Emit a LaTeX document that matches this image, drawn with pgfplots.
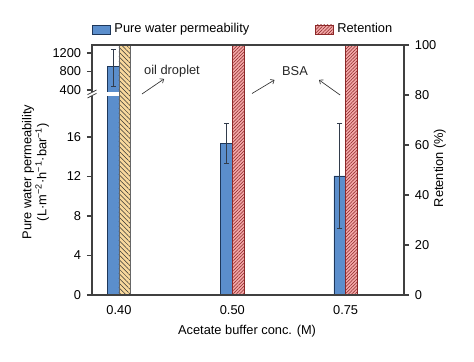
\documentclass[border=0pt]{standalone}
\usepackage{fontspec}
\setmainfont{Liberation Sans}
\usepackage{pgfplots}
\pgfplotsset{compat=1.18}
\usetikzlibrary{patterns.meta,arrows.meta}
\definecolor{pwblue}{RGB}{91,142,204}
\definecolor{pwedge}{RGB}{30,55,90}
\definecolor{retpink}{RGB}{244,168,168}
\definecolor{rethatch}{RGB}{140,40,40}
\definecolor{oiltan}{RGB}{248,216,156}
\definecolor{axgray}{RGB}{64,64,64}
\definecolor{errgray}{RGB}{50,60,75}
\begin{document}
\begin{tikzpicture}[font=\fontsize{7.7}{9}\selectfont]
\pgfplotsset{
  common/.style={
    width=187.2pt, height=150pt, scale only axis,
    at={(0,0)}, anchor=south west,
    xmin=-0.238, xmax=2.515,
    tick align=outside,
    major tick length=3pt,
    axis line style={axgray, line width=0.8pt},
    every tick/.style={axgray, line width=0.8pt},
    /pgf/number format/assume math mode=true,
    bar width=7pt,
    legend style={draw=none, fill=none, inner sep=0pt,
      font=\fontsize{7.7}{9}\selectfont, legend cell align=left},
    legend image code/.code={\draw[#1] (0pt,-2.7pt) rectangle (10.8pt,2.7pt);},
  }
}
% ---------------- left axis: pure water permeability (broken) ----------------
\begin{axis}[common,
  ymin=0, ymax=1373,
  y coord trafo/.code={\pgfmathparse{#1<300 ? 3.95*#1 : 82+(#1-400)*0.0185}},
  ytick={0,4,8,12,16,400,800,1200},
  yticklabels={0,4,8,12,16,400,800,1200},
  ytick pos=left,
  xtick={0,1,2},
  xticklabels={0.40,0.50,0.75},
  xtick style={draw=none},
  xtick pos=bottom,
  xlabel={Acetate buffer conc. (M)},
  every axis x label/.style={at={(axis description cs:0.497,-0.144)}, anchor=center},
  ylabel={Pure water permeability\\(L·m\textsuperscript{−2}·h\textsuperscript{−1}·bar\textsuperscript{−1})},
  every axis y label/.style={at={(axis description cs:-0.181,0.492)}, rotate=90, anchor=center, align=center},
  legend style={at={(axis description cs:0,1.062)}, anchor=west},
]
\addplot[ybar, bar shift=-3.5pt, fill=pwblue, draw=pwedge, line width=0.5pt]
  coordinates {(0,902) (1,15.35) (2,12.05)};
\addlegendentry{Pure water permeability}
% error bars
\addplot[errgray, line width=0.45pt, mark=-, mark size=1.5pt, mark options={line width=0.45pt}, forget plot]
  coordinates {(-0.0515,486) (-0.0515,1286)};
\addplot[errgray, line width=0.45pt, mark=-, mark size=1.5pt, mark options={line width=0.45pt}, forget plot]
  coordinates {(0.9485,13.35) (0.9485,17.35)};
\addplot[errgray, line width=0.45pt, mark=-, mark size=1.5pt, mark options={line width=0.45pt}, forget plot]
  coordinates {(1.9485,6.7) (1.9485,17.4)};
\end{axis}
% ---------------- right axis: retention ----------------
\begin{axis}[common,
  axis on top,
  ymin=0, ymax=100,
  ytick={0,20,40,60,80,100},
  ytick pos=right,
  xtick=\empty,
  ylabel={Retention (\%)},
  every axis y label/.style={at={(axis description cs:1.115,0.508)}, rotate=90, anchor=center},
  legend style={at={(axis description cs:0.974,1.062)}, anchor=east},
  clip=false,
]
\addplot[ybar, bar shift=3.5pt, fill=oiltan, draw=black!60, line width=0.4pt,
  postaction={pattern={Lines[angle=-45,distance=2pt,line width=0.3pt]}, pattern color=black!80},
  forget plot] coordinates {(0,100)};
\addplot[ybar, bar shift=3.5pt, fill=retpink, draw=rethatch, line width=0.45pt,
  postaction={pattern={Lines[angle=45,distance=1.4pt,line width=0.32pt]}, pattern color=rethatch}]
  coordinates {(1,100) (2,100)};
\addlegendentry{Retention}
% gap across the broken blue bar
\fill[white] (axis cs:-0.11,79.6) rectangle (axis cs:-0.004,81.1);
% annotations
\node[text=black!85] at (axis cs:0.468,89.4) {oil droplet};
\node[text=black!85] at (axis cs:1.553,89.4) {BSA};
\draw[black!80, line width=0.4pt, -{To[length=2.2pt,width=3.4pt]}] (axis cs:0.203,80.4) -- (axis cs:0.397,86.4);
\draw[black!80, line width=0.4pt, -{To[length=2.2pt,width=3.4pt]}] (axis cs:1.174,80.6) -- (axis cs:1.372,86.0);
\draw[black!80, line width=0.4pt, -{To[length=2.2pt,width=3.4pt]}] (axis cs:1.951,80.0) -- (axis cs:1.766,86.0);
\end{axis}
% axis break marks on the left axis line
\fill[white] (-1.2pt,119.6pt) rectangle (1.2pt,121.6pt);
\draw[axgray, line width=0.5pt] (-2.7pt,118.2pt) -- (2.7pt,121pt);
\draw[axgray, line width=0.5pt] (-2.7pt,120.2pt) -- (2.7pt,123pt);
% bounding box matching the reference proportions
\path (-55.2pt,-40.2pt) rectangle (229.2pt,177pt);
\end{tikzpicture}
\end{document}
